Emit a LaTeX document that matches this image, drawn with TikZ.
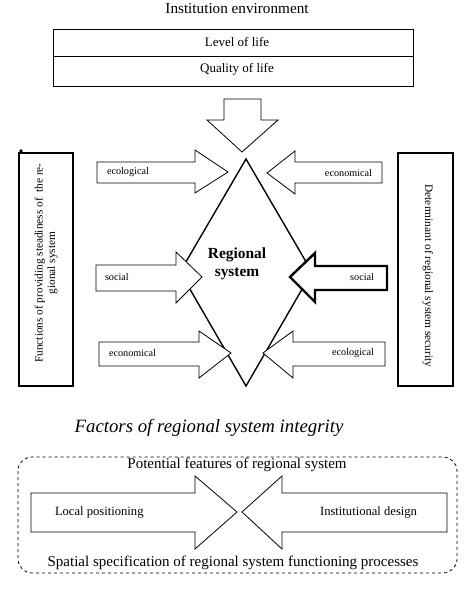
\documentclass[tikz,border=0pt]{standalone}
\usepackage{fontspec}
\setmainfont{Liberation Serif}
\begin{document}
\begin{tikzpicture}[x=1pt,y=-1pt,
  every node/.style={inner sep=0pt, outer sep=0pt},
  shp/.style={draw=black, line width=0.8pt, fill=white, line join=miter},
  small/.style={font=\fontsize{10.2}{11}\selectfont},
  mid/.style={font=\fontsize{12.6}{14}\selectfont},
  big/.style={font=\fontsize{15}{17}\selectfont}]
\useasboundingbox (0,0) rectangle (474,593);
% title
\node[font=\fontsize{15.2}{17}\selectfont] (title) at (237,9) {Institution environment};
% top box
\draw[shp] (53,29) rectangle (413,86);
\draw[line width=0.8pt] (53,56) -- (413,56);
\node[font=\fontsize{13}{15}\selectfont] (lev) at (237,42) {Level of life};
\node[font=\fontsize{13}{15}\selectfont] (qual) at (237,69) {Quality of life};
% down arrow
\draw[shp] (224,99) -- (261,99) -- (261,120) -- (278,120) -- (242,152) -- (207,120) -- (224,120) -- cycle;
% side boxes
\draw[draw=black, line width=1.3pt] (19,153) rectangle (73,386);
\fill (21,151) circle (1.8);
\draw[draw=black, line width=1.3pt] (398,153) rectangle (453,386);
\node[rotate=90, align=center, font=\fontsize{11.3}{12.5}\selectfont] (ltext) at (46,263)
  {Functions of providing steadiness of \ the re-\\gional system};
\node[rotate=-90, font=\fontsize{11.4}{13}\selectfont] (rtext) at (428,276)
  {Determinant of regional system security};
% diamond
\draw[line width=1.4pt, line join=miter] (246,159) -- (312,272) -- (246,386) -- (180,272) -- cycle;
\node[align=center, font=\bfseries\fontsize{15.4}{17.5}\selectfont] (rs) at (237,264) {Regional\\system};
% left arrows (pointing right)
\draw[shp] (97,162) -- (195,162) -- (195,150) -- (228,172) -- (195,193) -- (195,183) -- (97,183) -- cycle;
\node[small, anchor=west] (eco1) at (107,172) {ecological};
\draw[shp] (96,265) -- (176,265) -- (176,252) -- (202,277) -- (176,303) -- (176,291) -- (96,291) -- cycle;
\node[small, anchor=west] (soc1) at (105,277) {social};
\draw[shp] (99,342) -- (199,342) -- (199,331) -- (231,353) -- (199,378) -- (199,366) -- (99,366) -- cycle;
\node[small, anchor=west] (ecn1) at (109,353) {economical};
% right arrows (pointing left)
\draw[shp] (382,162) -- (295,162) -- (295,151) -- (267,173) -- (295,194) -- (295,183) -- (382,183) -- cycle;
\node[small, anchor=east] (ecn2) at (372,173) {economical};
\draw[shp, line width=2.4pt] (387,266) -- (315,266) -- (315,253) -- (290,277) -- (315,302) -- (315,290) -- (387,290) -- cycle;
\node[small, anchor=east] (soc2) at (374,277) {social};
\draw[shp] (385,342) -- (293,342) -- (293,331) -- (263,353) -- (293,378) -- (293,366) -- (385,366) -- cycle;
\node[small, anchor=east] (eco2) at (374,353) {ecological};
% factors
\node[font=\itshape\fontsize{18.8}{20}\selectfont] (fac) at (209,428) {Factors of regional system integrity};
\draw[dashed, line width=0.8pt, rounded corners=14pt] (18,457) rectangle (457,573);
\node[big] (pot) at (237,465) {Potential features of regional system};
\draw[shp] (31,493) -- (195,493) -- (195,476) -- (237,512) -- (195,549) -- (195,532) -- (31,532) -- cycle;
\node[mid, anchor=west] (loc) at (55,512) {Local positioning};
\draw[shp] (447,493) -- (282,493) -- (282,476) -- (242,512) -- (282,549) -- (282,532) -- (447,532) -- cycle;
\node[mid, anchor=east] (inst) at (417,512) {Institutional design};
\node[big] (spat) at (233,563) {Spatial specification of regional system functioning processes};
\end{tikzpicture}
\end{document}
